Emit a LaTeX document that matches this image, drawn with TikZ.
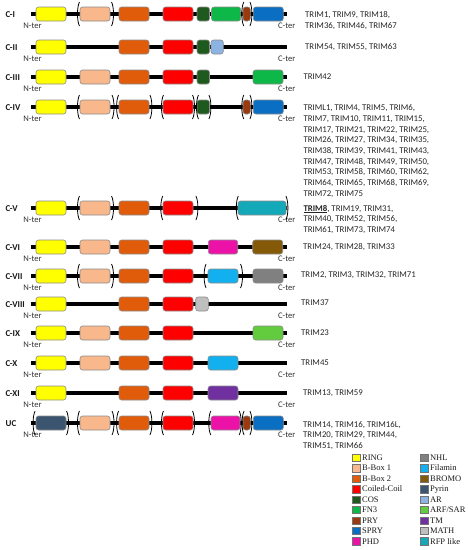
\documentclass[tikz,border=0pt]{standalone}
\usepackage{fontspec}
\setmainfont{Carlito}
\newfontfamily\legfont{Liberation Serif}
\definecolor{cRING}{HTML}{FFFF00}
\definecolor{cBBa}{HTML}{F8B88B}
\definecolor{cBBb}{HTML}{E05C0A}
\definecolor{cCC}{HTML}{FF0000}
\definecolor{cCOS}{HTML}{1E5A1E}
\definecolor{cFN}{HTML}{0DB848}
\definecolor{cPRY}{HTML}{9A3A0E}
\definecolor{cSPRY}{HTML}{0A6FC2}
\definecolor{cPHD}{HTML}{EC12A8}
\definecolor{cNHL}{HTML}{808080}
\definecolor{cFIL}{HTML}{12B0EE}
\definecolor{cBROMO}{HTML}{845A08}
\definecolor{cPYR}{HTML}{3B5570}
\definecolor{cAR}{HTML}{8DB3E2}
\definecolor{cARF}{HTML}{62CC3E}
\definecolor{cTM}{HTML}{7030A0}
\definecolor{cMATH}{HTML}{BFBFBF}
\definecolor{cRFP}{HTML}{13A9B8}
\tikzset{
  dom/.style={draw=black!45, line width=0.6pt, rounded corners=2.5pt, minimum height=14pt, inner sep=0pt},
  bb/.style={line width=3.6pt, black},
  brk/.style={line width=0.8pt, black},
  rowlab/.style={anchor=base west, inner sep=0pt, font=\fontsize{9}{10}\selectfont\bfseries, text=black!90},
  term/.style={anchor=base, inner sep=0pt, font=\fontsize{8.6}{10}\selectfont, text=black!80},
  tl/.style={anchor=base west, inner sep=0pt, font=\fontsize{8.8}{10.7}\selectfont, text=black!85},
  sw/.style={draw=black!55, line width=0.4pt, minimum size=7.3pt, inner sep=0pt},
  legtxt/.style={anchor=base west, inner sep=0pt, font=\legfont\fontsize{8.5}{10}\selectfont, text=black!90}
}
\newcommand\dombox[5]{\node[dom, fill=#2, minimum width={#4pt-#3pt}] (#1) at ({(#3+#4)/2},#5) {};}
\newcommand\lbr[2]{\draw[brk] ({#1+1.8},{#2-12}) .. controls ({#1-0.9},{#2-7}) and ({#1-0.9},{#2+7}) .. ({#1+1.8},{#2+12});}
\newcommand\rbr[2]{\draw[brk] ({#1-1.8},{#2-12}) .. controls ({#1+0.9},{#2-7}) and ({#1+0.9},{#2+7}) .. ({#1-1.8},{#2+12});}
\newcommand\rowbase[3]{%
  \node[rowlab] (#1lab) at (5.5,{#3+3}) {#2};
  \coordinate (#1a) at (31,#3); \coordinate (#1b) at (287,#3);
  \draw[bb] (#1a) -- (#1b);
  \node[term] (#1n) at (32.5,{#3+14.8}) {N-ter};
  \node[term] (#1c) at (286.7,{#3+14.8}) {C-ter};}
\newcommand\tlist[4]{\node[tl] (#1) at (#2,{#3+2.9}) {\vtop{\baselineskip=10.7pt #4}};}
\newcommand\legitem[5]{\node[sw, fill=#2] (#1) at (#3,#4) {}; \node[legtxt] (#1t) at ({#3+5.6},{#4+2.8}) {#5};}
\begin{document}
\begin{tikzpicture}[x=1pt,y=-1pt]
\useasboundingbox (0,0) rectangle (468,550);
% C-I
\rowbase{ra}{C-I}{14}
\dombox{raA}{cRING}{36}{66}{14}
\dombox{raB}{cBBa}{80}{110}{14}
\dombox{raC}{cBBb}{119}{149}{14}
\dombox{raD}{cCC}{163}{193}{14}
\dombox{raE}{cCOS}{197}{209.5}{14}
\dombox{raF}{cFN}{211.5}{240.7}{14}
\dombox{raG}{cPRY}{243}{250.3}{14}
\dombox{raH}{cSPRY}{253.3}{283.3}{14}
\lbr{77.7}{14}\rbr{113.3}{14}\lbr{242}{14}\rbr{251.7}{14}
\tlist{raT}{305}{15}{\hbox{TRIM1, TRIM9, TRIM18,}\hbox{TRIM36, TRIM46, TRIM67}}
% C-II
\rowbase{rb}{C-II}{47}
\dombox{rbA}{cRING}{36}{66}{47}
\dombox{rbC}{cBBb}{119}{149}{47}
\dombox{rbD}{cCC}{163}{193}{47}
\dombox{rbE}{cCOS}{197}{209.5}{47}
\dombox{rbF}{cAR}{211}{223.3}{47}
\tlist{rbT}{305}{47}{\hbox{TRIM54, TRIM55, TRIM63}}
% C-III
\rowbase{rc}{C-III}{77}
\dombox{rcA}{cRING}{36}{66}{77}
\dombox{rcB}{cBBa}{80}{110}{77}
\dombox{rcC}{cBBb}{119}{149}{77}
\dombox{rcD}{cCC}{163}{193}{77}
\dombox{rcE}{cCOS}{197}{209.5}{77}
\dombox{rcF}{cFN}{253}{283}{77}
\tlist{rcT}{303.3}{77}{\hbox{TRIM42}}
% C-IV
\rowbase{rd}{C-IV}{107}
\dombox{rdA}{cRING}{36}{66}{107}
\dombox{rdB}{cBBa}{80}{110}{107}
\dombox{rdC}{cBBb}{119}{149}{107}
\dombox{rdD}{cCC}{163}{193}{107}
\dombox{rdE}{cCOS}{197}{209.5}{107}
\dombox{rdG}{cPRY}{243}{250.3}{107}
\dombox{rdH}{cSPRY}{253.3}{283.3}{107}
\lbr{77.7}{107}\rbr{113.8}{107}\lbr{116.8}{107}\rbr{151.7}{107}
\lbr{161.7}{107}\rbr{194.3}{107}\lbr{196.7}{107}\rbr{210.7}{107}
\lbr{242}{107}\rbr{251.7}{107}
\tlist{rdT}{303.3}{107.7}{\hbox{TRIML1, TRIM4, TRIM5, TRIM6,}\hbox{TRIM7, TRIM10, TRIM11, TRIM15,}\hbox{TRIM17, TRIM21, TRIM22, TRIM25,}\hbox{TRIM26, TRIM27, TRIM34, TRIM35,}\hbox{TRIM38, TRIM39, TRIM41, TRIM43,}\hbox{TRIM47, TRIM48, TRIM49, TRIM50,}\hbox{TRIM53, TRIM58, TRIM60, TRIM62,}\hbox{TRIM64, TRIM65, TRIM68, TRIM69,}\hbox{TRIM72, TRIM75}}
% C-V
\rowbase{re}{C-V}{208}
\dombox{reA}{cRING}{36}{66}{208}
\dombox{reB}{cBBa}{80}{110}{208}
\dombox{reC}{cBBb}{119}{149}{208}
\dombox{reD}{cCC}{163}{193}{208}
\dombox{reF}{cRFP}{238}{286}{208}
\lbr{77.7}{208}\rbr{113.3}{208}\lbr{161}{208}\rbr{197.7}{208}\lbr{236.5}{208}\rbr{287.7}{208}
\tlist{reT}{303.3}{208.3}{\hbox{\textbf{\underline{TRIM8}}, TRIM19, TRIM31,}\hbox{TRIM40, TRIM52, TRIM56,}\hbox{TRIM61, TRIM73, TRIM74}}
% C-VI
\rowbase{rf}{C-VI}{247}
\dombox{rfA}{cRING}{36}{66}{247}
\dombox{rfB}{cBBa}{80}{110}{247}
\dombox{rfC}{cBBb}{119}{149}{247}
\dombox{rfD}{cCC}{163}{193}{247}
\dombox{rfE}{cPHD}{208.3}{237.7}{247}
\dombox{rfF}{cBROMO}{252.7}{282.7}{247}
\tlist{rfT}{303}{246.7}{\hbox{TRIM24, TRIM28, TRIM33}}
% C-VII
\rowbase{rg}{C-VII}{276}
\dombox{rgA}{cRING}{36}{66}{276}
\dombox{rgB}{cBBa}{80}{110}{276}
\dombox{rgC}{cBBb}{119}{149}{276}
\dombox{rgD}{cCC}{163}{193}{276}
\dombox{rgE}{cFIL}{208}{238}{276}
\dombox{rgF}{cNHL}{253}{283}{276}
\lbr{77.7}{276}\rbr{113.3}{276}\lbr{204.3}{276}\rbr{242.3}{276}
\tlist{rgT}{301}{275}{\hbox{TRIM2, TRIM3, TRIM32, TRIM71}}
% C-VIII
\rowbase{rh}{C-VIII}{304}
\dombox{rhA}{cRING}{36}{66}{304}
\dombox{rhC}{cBBb}{119}{149}{304}
\dombox{rhD}{cCC}{163}{193}{304}
\dombox{rhE}{cMATH}{195.7}{208.3}{304}
\tlist{rhT}{301}{303}{\hbox{TRIM37}}
% C-IX
\rowbase{ri}{C-IX}{333}
\dombox{riA}{cRING}{36}{66}{333}
\dombox{riB}{cBBa}{80}{110}{333}
\dombox{riC}{cBBb}{119}{149}{333}
\dombox{riD}{cCC}{163}{193}{333}
\dombox{riF}{cARF}{253}{283}{333}
\tlist{riT}{301}{332.7}{\hbox{TRIM23}}
% C-X
\rowbase{rj}{C-X}{363}
\dombox{rjA}{cRING}{36}{66}{363}
\dombox{rjB}{cBBa}{80}{110}{363}
\dombox{rjC}{cBBb}{119}{149}{363}
\dombox{rjD}{cCC}{163}{193}{363}
\dombox{rjE}{cFIL}{208}{238}{363}
\tlist{rjT}{301}{362.7}{\hbox{TRIM45}}
% C-XI
\rowbase{rk}{C-XI}{393}
\dombox{rkA}{cRING}{36}{66}{393}
\dombox{rkC}{cBBb}{119}{149}{393}
\dombox{rkD}{cCC}{163}{193}{393}
\dombox{rkE}{cTM}{208}{238}{393}
\tlist{rkT}{303}{392.7}{\hbox{TRIM13, TRIM59}}
% UC
\rowbase{rl}{UC}{423}
\dombox{rlA}{cPYR}{36}{66}{423}
\dombox{rlB}{cBBa}{80}{110}{423}
\dombox{rlC}{cBBb}{119}{149}{423}
\dombox{rlD}{cCC}{163}{193}{423}
\dombox{rlE}{cPHD}{211}{240}{423}
\dombox{rlG}{cPRY}{243}{250.3}{423}
\dombox{rlH}{cSPRY}{253.3}{283.3}{423}
\lbr{33.3}{423}\rbr{68.3}{423}\lbr{77.7}{423}\rbr{113.8}{423}\lbr{116.8}{423}\rbr{151.7}{423}
\lbr{161.7}{423}\rbr{194.3}{423}\lbr{209}{423}\rbr{241}{423}\lbr{242.3}{423}\rbr{251.7}{423}
\tlist{rlT}{303}{424.3}{\hbox{TRIM14, TRIM16, TRIM16L,}\hbox{TRIM20, TRIM29, TRIM44,}\hbox{TRIM51, TRIM66}}
% legend
\legitem{la}{cRING}{356.3}{457.7}{RING}
\legitem{lb}{cBBa}{356.3}{468.15}{B-Box 1}
\legitem{lc}{cBBb}{356.3}{478.6}{B-Box 2}
\legitem{ld}{cCC}{356.3}{489.05}{Coiled-Coil}
\legitem{le}{cCOS}{356.3}{499.5}{COS}
\legitem{lf}{cFN}{356.3}{509.95}{FN3}
\legitem{lg}{cPRY}{356.3}{520.4}{PRY}
\legitem{lh}{cSPRY}{356.3}{530.85}{SPRY}
\legitem{li}{cPHD}{356.3}{541.3}{PHD}
\legitem{ma}{cNHL}{424.3}{457.7}{NHL}
\legitem{mb}{cFIL}{424.3}{468.15}{Filamin}
\legitem{mc}{cBROMO}{424.3}{478.6}{BROMO}
\legitem{md}{cPYR}{424.3}{489.05}{Pyrin}
\legitem{me}{cAR}{424.3}{499.5}{AR}
\legitem{mf}{cARF}{424.3}{509.95}{ARF/SAR}
\legitem{mg}{cTM}{424.3}{520.4}{TM}
\legitem{mh}{cMATH}{424.3}{530.85}{MATH}
\legitem{mi}{cRFP}{424.3}{541.3}{RFP like}
\end{tikzpicture}
\end{document}
